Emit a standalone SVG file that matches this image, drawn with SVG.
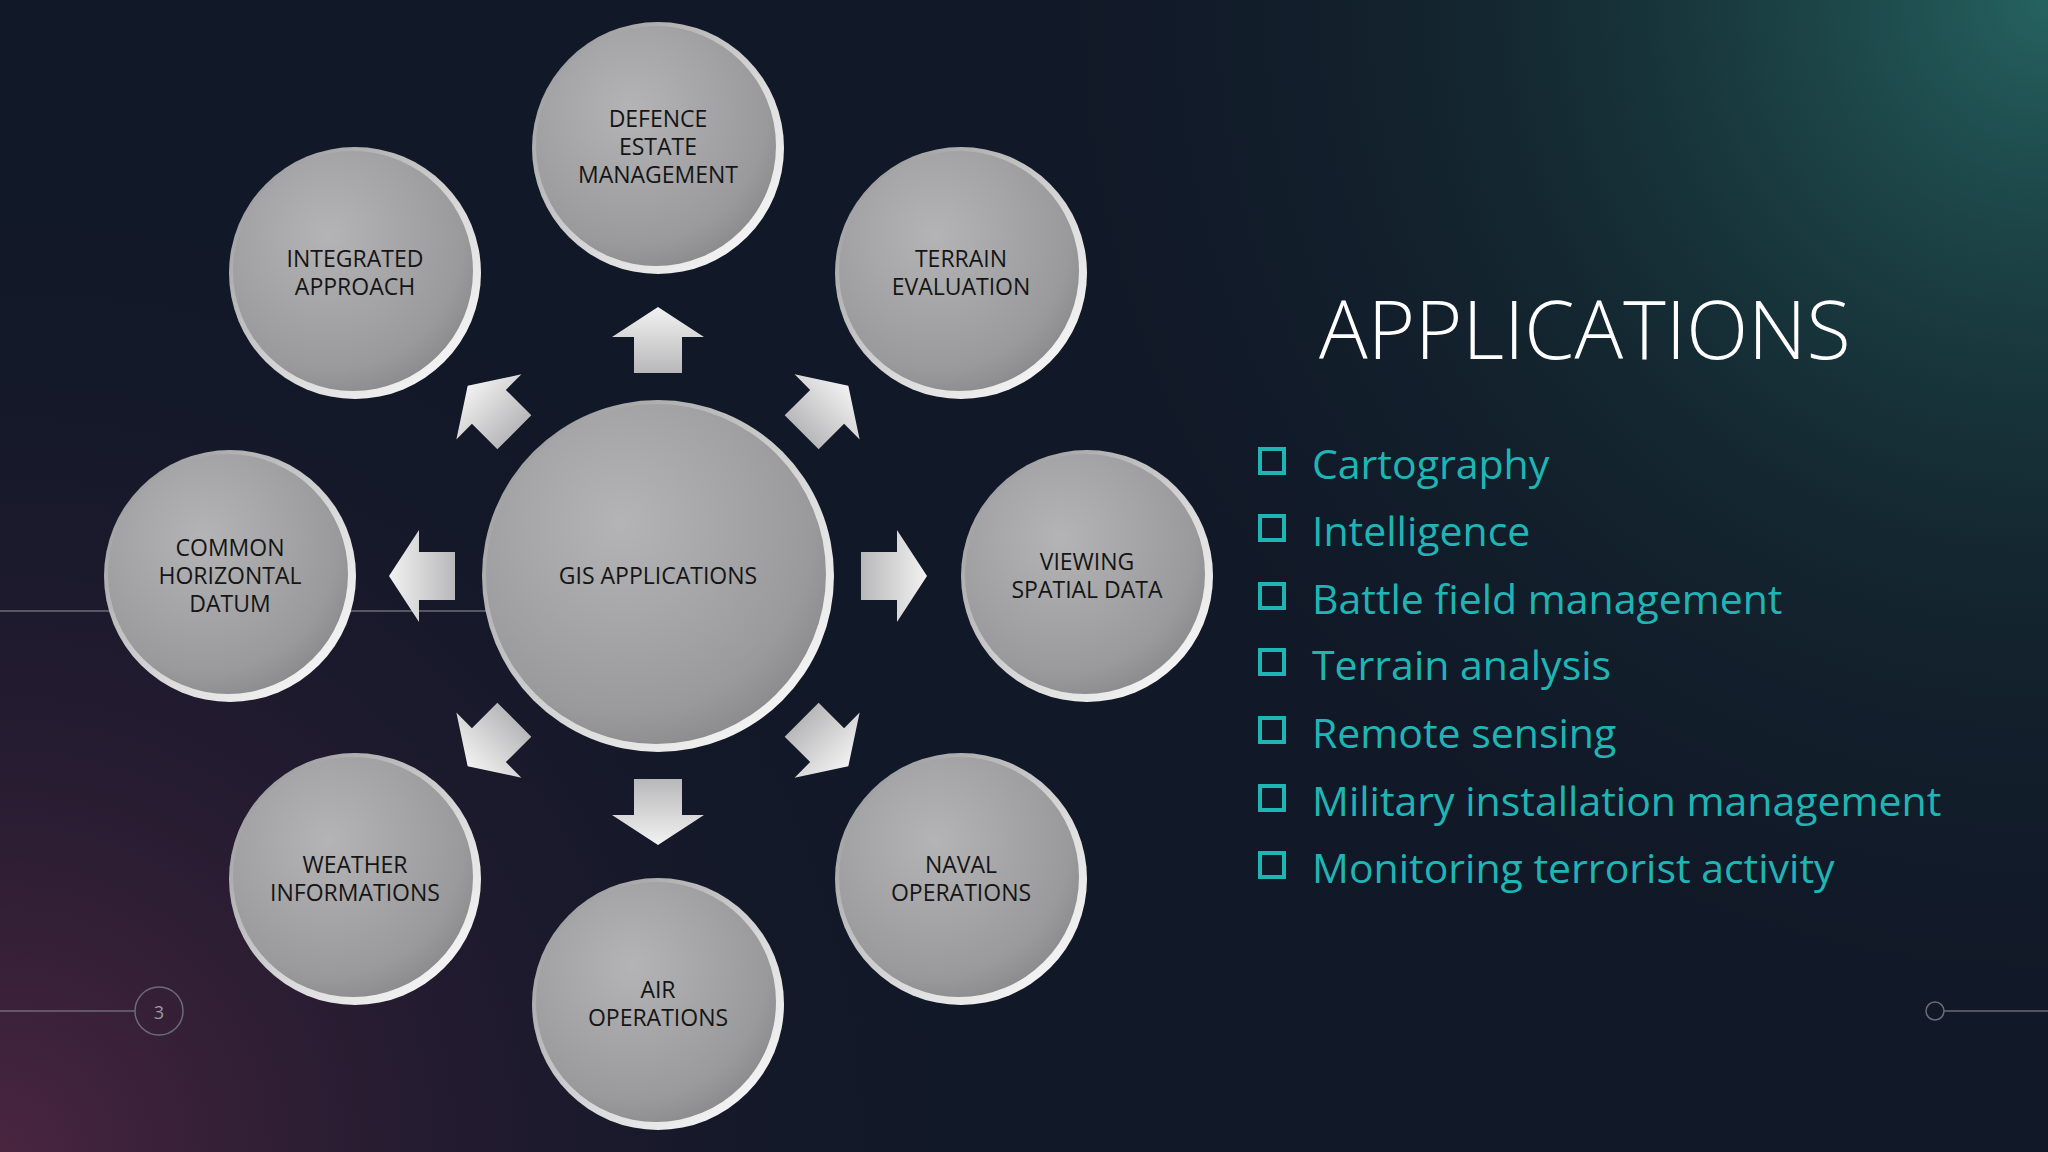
<svg xmlns="http://www.w3.org/2000/svg" width="2048" height="1152" viewBox="0 0 2048 1152">
<defs>
<radialGradient id="tl" cx="2048" cy="0" r="1100" gradientUnits="userSpaceOnUse"><stop offset="0" stop-color="#25625f"/><stop offset="0.5" stop-color="#163238" stop-opacity="0.6"/><stop offset="1" stop-color="#111827" stop-opacity="0"/></radialGradient>
<radialGradient id="bl" cx="0" cy="1152" r="1000" gradientUnits="userSpaceOnUse"><stop offset="0" stop-color="#4a2540"/><stop offset="0.5" stop-color="#2a1c33" stop-opacity="0.6"/><stop offset="1" stop-color="#111827" stop-opacity="0"/></radialGradient>
<radialGradient id="cg" cx="0.4" cy="0.35" r="0.7"><stop offset="0" stop-color="#b4b4b6"/><stop offset="0.8" stop-color="#9a9a9c"/><stop offset="1" stop-color="#8a8a8c"/></radialGradient>
<linearGradient id="rim" x1="0" y1="0" x2="1" y2="1"><stop offset="0" stop-color="#8e8e90"/><stop offset="0.6" stop-color="#dcdcdc"/><stop offset="1" stop-color="#ffffff"/></linearGradient>
<linearGradient id="ag" x1="0" y1="0" x2="0" y2="1"><stop offset="0" stop-color="#f2f2f2"/><stop offset="1" stop-color="#b8b8ba"/></linearGradient>
<polygon id="arr" points="0,-33 46,-3 24,-3 24,33 -24,33 -24,-3 -46,-3" fill="url(#ag)"/>
</defs>
<style>
.c circle.o{fill:url(#rim)}
.c circle.i{fill:url(#cg)}
.c text{font-family:"Open Sans","Noto Sans",sans-serif;font-size:23px;fill:#151515;text-anchor:middle}
.b text{font-family:"Open Sans","Noto Sans",sans-serif;font-size:41px;fill:#1fb5b5}
.b rect{fill:none;stroke:#1fb5b5;stroke-width:4}
</style>
<rect width="2048" height="1152" fill="#111827"/>
<rect width="2048" height="1152" fill="url(#tl)"/>
<rect width="2048" height="1152" fill="url(#bl)"/>
<g stroke="#6b6b78" stroke-width="1.5" fill="none">
<line x1="0" y1="611" x2="490" y2="611"/>
<line x1="0" y1="1011" x2="135" y2="1011"/>
<circle cx="159" cy="1011" r="24"/>
<line x1="1944" y1="1011" x2="2048" y2="1011"/>
<circle cx="1935" cy="1011" r="9"/>
</g>
<text x="159" y="1019" font-family="Open Sans,sans-serif" font-size="18" fill="#9a9aa6" text-anchor="middle">3</text>
<g id="connectors">
<use href="#arr" transform="translate(658,340)"/>
<use href="#arr" transform="translate(825,409) rotate(45)"/>
<use href="#arr" transform="translate(894,576) rotate(90)"/>
<use href="#arr" transform="translate(825,743) rotate(135)"/>
<use href="#arr" transform="translate(658,812) rotate(180)"/>
<use href="#arr" transform="translate(491,743) rotate(225)"/>
<use href="#arr" transform="translate(422,576) rotate(270)"/>
<use href="#arr" transform="translate(491,409) rotate(315)"/>
</g>
<g id="center" class="c"><circle class="o" cx="658" cy="576" r="176"/><circle class="i" cx="656" cy="574" r="170"/><text x="658" y="584">GIS APPLICATIONS</text></g>
<g id="defence" class="c"><circle class="o" cx="658" cy="148" r="126"/><circle class="i" cx="656" cy="146" r="120"/><text x="658" y="127">DEFENCE</text><text x="658" y="155">ESTATE</text><text x="658" y="183">MANAGEMENT</text></g>
<g id="terrain" class="c"><circle class="o" cx="961" cy="273" r="126"/><circle class="i" cx="959" cy="271" r="120"/><text x="961" y="267">TERRAIN</text><text x="961" y="295">EVALUATION</text></g>
<g id="viewing" class="c"><circle class="o" cx="1087" cy="576" r="126"/><circle class="i" cx="1085" cy="574" r="120"/><text x="1087" y="570">VIEWING</text><text x="1087" y="598">SPATIAL DATA</text></g>
<g id="naval" class="c"><circle class="o" cx="961" cy="879" r="126"/><circle class="i" cx="959" cy="877" r="120"/><text x="961" y="873">NAVAL</text><text x="961" y="901">OPERATIONS</text></g>
<g id="air" class="c"><circle class="o" cx="658" cy="1004" r="126"/><circle class="i" cx="656" cy="1002" r="120"/><text x="658" y="998">AIR</text><text x="658" y="1026">OPERATIONS</text></g>
<g id="weather" class="c"><circle class="o" cx="355" cy="879" r="126"/><circle class="i" cx="353" cy="877" r="120"/><text x="355" y="873">WEATHER</text><text x="355" y="901">INFORMATIONS</text></g>
<g id="common" class="c"><circle class="o" cx="230" cy="576" r="126"/><circle class="i" cx="228" cy="574" r="120"/><text x="230" y="556">COMMON</text><text x="230" y="584">HORIZONTAL</text><text x="230" y="612">DATUM</text></g>
<g id="integrated" class="c"><circle class="o" cx="355" cy="273" r="126"/><circle class="i" cx="353" cy="271" r="120"/><text x="355" y="267">INTEGRATED</text><text x="355" y="295">APPROACH</text></g>
<text x="1319" y="359" font-family="Open Sans,sans-serif" font-weight="300" font-size="81" fill="#ffffff">APPLICATIONS</text>
<g id="bullets" class="b">
<rect x="1260" y="449" width="24" height="24"/><text x="1312" y="479">Cartography</text>
<rect x="1260" y="516" width="24" height="24"/><text x="1312" y="546">Intelligence</text>
<rect x="1260" y="584" width="24" height="24"/><text x="1312" y="614">Battle field management</text>
<rect x="1260" y="650" width="24" height="24"/><text x="1312" y="680">Terrain analysis</text>
<rect x="1260" y="718" width="24" height="24"/><text x="1312" y="748">Remote sensing</text>
<rect x="1260" y="786" width="24" height="24"/><text x="1312" y="816">Military installation management</text>
<rect x="1260" y="853" width="24" height="24"/><text x="1312" y="883">Monitoring terrorist activity</text>
</g>
</svg>
